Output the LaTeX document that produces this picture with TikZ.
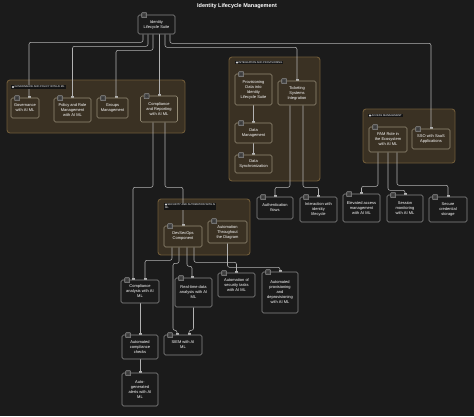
\documentclass[tikz,border=0pt]{standalone}
\usepackage{fontspec}
\setmainfont{Liberation Sans}
\usetikzlibrary{arrows.meta}
\definecolor{bgc}{HTML}{1B1B1B}
\definecolor{grpfill}{HTML}{3A3123}
\definecolor{grpline}{HTML}{6E5A38}
\definecolor{nodeline}{HTML}{8C8C8C}
\definecolor{gnodeline}{HTML}{958C76}
\definecolor{edgecol}{HTML}{B2B2B2}
\definecolor{labelbg}{HTML}{151515}
\definecolor{icofill}{HTML}{4A4A4A}
\pgfdeclarelayer{bg}
\pgfdeclarelayer{fg}
\pgfsetlayers{bg,main,fg}
\tikzset{
  sz/.style 2 args={minimum width=#1pt, minimum height=#2pt},
  box/.style={draw=nodeline, fill=bgc, rounded corners=1.5pt, line width=0.6pt, text=white,
    align=center, font=\fontsize{4}{5}\selectfont, inner sep=0pt},
  gbox/.style={box, draw=gnodeline, fill=grpfill},
  grp/.style={draw=grpline, fill=grpfill, rounded corners=3pt, line width=0.9pt},
  edge/.style={draw=edgecol, line width=0.55pt, rounded corners=2pt,
    -{Square[open,length=2.2pt,width=2.2pt,line width=0.5pt]}},
  ico/.style={draw=nodeline, fill=icofill, rounded corners=0.6pt, line width=0.5pt,
    minimum size=5pt, inner sep=0pt},
  glabel/.style={fill=labelbg, text=white, font=\fontsize{2.6}{3.1}\selectfont,
    inner xsep=1pt, inner ysep=0.8pt, anchor=west, align=left},
  gdot/.style={circle, draw=white, line width=0.3pt, minimum size=1.8pt, inner sep=0pt}
}
\newcommand\nicon[1]{\node[ico] (ic#1) at ([xshift=6.5pt,yshift=-0.5pt]#1.north west) {};
  \draw[black!80, line width=0.35pt] (ic#1.center) circle[radius=1pt];}
\begin{document}
\begin{tikzpicture}[x=1pt,y=-1pt]
\begin{pgfonlayer}{bg}
  \fill[bgc] (0,0) rectangle (474,416);
  \useasboundingbox (0,0) rectangle (474,416);
  \draw[grp] (7,80) rectangle (185,133);
  \draw[grp] (229,57) rectangle (320,181);
  \draw[grp] (363,109) rectangle (455,163);
  \draw[grp] (158,199) rectangle (250,255);
\end{pgfonlayer}
\begin{pgfonlayer}{fg}
  \node[text=white, font=\bfseries\fontsize{5.5}{6}\selectfont] (title) at (237,6) {Identity Lifecycle Management};
  % group labels
  \node[glabel] (lgov) at (11,87) {\hspace{2.5pt}GOVERNANCE AND POLICY WITH AI ML};
  \node[gdot] at (13,87) {};
  \node[glabel] (lint) at (235,62.5) {\hspace{2.5pt}INTEGRATION AND PROVISIONING};
  \node[gdot] at (237,62.5) {};
  \node[glabel] (lacc) at (368,115.5) {\hspace{2.5pt}ACCESS MANAGEMENT};
  \node[gdot] at (370,115.5) {};
  \node[glabel] (lsec) at (164,206.5) {\hspace{2.5pt}SECURITY AND AUTOMATION WITH AI\\ML};
  \node[gdot] at (166,204.5) {};
  % nodes
  \node[box,sz={37}{19}] (root) at (156.5,24.5) {Identity\\Lifecycle Suite};
  \node[gbox,sz={28}{20}] (gov) at (25,108) {Governance\\with AI ML};
  \node[gbox,sz={37}{24}] (policy) at (72.5,110) {Policy and Role\\Management\\with AI ML};
  \node[gbox,sz={31}{20}] (groups) at (112.5,108) {Groups\\Management};
  \node[gbox,sz={37}{26}] (compl) at (159,109) {Compliance\\and Reporting\\with AI ML};
  \node[gbox,sz={37}{31}] (prov) at (253.5,89.5) {Provisioning\\Data into\\Identity\\Lifecycle Suite};
  \node[gbox,sz={38}{24}] (ticket) at (297,93) {Ticketing\\Systems\\Integration};
  \node[gbox,sz={37}{20}] (datam) at (253.5,133) {Data\\Management};
  \node[gbox,sz={37}{18}] (datas) at (253.5,164) {Data\\Synchronization};
  \node[gbox,sz={38}{25}] (pam) at (388,139.5) {PAM Role in\\the Ecosystem\\with AI ML};
  \node[gbox,sz={38}{20}] (sso) at (431,139) {SSO with SaaS\\Applications};
  \node[box,sz={36}{22}] (auth) at (275,208) {Authentication\\flows};
  \node[box,sz={37}{25}] (inter) at (318.5,209.5) {Interaction with\\identity\\lifecycle};
  \node[box,sz={37}{28}] (elev) at (361.5,208) {Elevated access\\management\\with AI ML};
  \node[box,sz={36}{27}] (sess) at (405,208.5) {Session\\monitoring\\with AI ML};
  \node[box,sz={38}{25}] (secure) at (448,209.5) {Secure\\credential\\storage};
  \node[gbox,sz={38}{21}] (devsec) at (183,236.5) {DevSecOps\\Component};
  \node[gbox,sz={39}{22}] (autothr) at (227.5,232) {Automation\\Throughout\\the Diagram};
  \node[box,sz={38}{23}] (compan) at (140,291.5) {Compliance\\analysis with AI\\ML};
  \node[box,sz={37}{29}] (realtime) at (193.5,292.5) {Real-time data\\analysis with AI\\ML};
  \node[box,sz={37}{24}] (autosec) at (236.5,285) {Automation of\\security tasks\\with AI ML};
  \node[box,sz={36}{41}] (autoprov) at (280,292.5) {Automated\\provisioning\\and\\deprovisioning\\with AI ML};
  \node[box,sz={38}{20}] (siem) at (183,345) {SIEM with AI\\ML};
  \node[box,sz={36}{24}] (autocc) at (140,347) {Automated\\compliance\\checks};
  \node[box,sz={36}{33}] (alerts) at (140,389.5) {Auto-\\generated\\alerts with AI\\ML};
  \foreach \n in {root,gov,policy,groups,compl,prov,ticket,datam,datas,pam,sso,auth,inter,elev,sess,secure,devsec,autothr,compan,realtime,autosec,autoprov,siem,autocc,alerts}{\nicon{\n}}
\end{pgfonlayer}
% edges
\draw[edge] ([xshift=-13.5pt]root.south) -- ++(0,8) -| ([xshift=4pt]gov.north);
\draw[edge] ([xshift=-8.5pt]root.south) -- ++(0,12) -| (policy.north);
\draw[edge] ([xshift=-3.5pt]root.south) -- ++(0,16) -| ([xshift=3.5pt]groups.north);
\draw[edge] ([xshift=2.5pt]root.south) -- (compl.north);
\draw[edge] ([xshift=8.5pt]root.south) -- ++(0,13) -| (ticket.north);
\draw[edge] ([xshift=13.5pt]root.south) -- ++(0,9) -| (sso.north);
\draw[edge] ([xshift=-6pt]compl.south) -- ++(0,65) -| ([xshift=-7pt]compan.north);
\draw[edge] ([xshift=6pt]compl.south) -- ++(0,65) -| (devsec.north);
\draw[edge] (prov.south) -- (datam.north);
\draw[edge] (datam.south) -- (datas.north);
\draw[edge] ([xshift=-7pt]ticket.south) -- ++(0,82) -| (auth.north);
\draw[edge] ([xshift=6pt]ticket.south) -- ++(0,82) -| (inter.north);
\draw[edge] ([xshift=-10pt]pam.south) -- ++(0,34) -| (elev.north);
\draw[edge] (pam.south) -- ++(0,38) -| (sess.north);
\draw[edge] ([xshift=9pt]pam.south) -- ++(0,33) -| (secure.north);
\draw[edge] ([xshift=-11pt]devsec.south) -- ++(0,13) -| ([xshift=5pt]compan.north);
\draw[edge] ([xshift=-4pt]devsec.south) -- ++(0,16) -| ++(-6,67) -| ([xshift=-6pt]siem.north);
\draw[edge] ([xshift=4pt]devsec.south) -- ++(0,19) -| ([xshift=-1.5pt]realtime.north);
\draw[edge] ([xshift=11pt]devsec.south) -- ++(0,15) -| (autosec.north);
\draw[edge] (autothr.south) -- ++(0,24) -| (autoprov.north);
\draw[edge] (realtime.south) -- ++(0,23) -| ([xshift=6pt]siem.north);
\draw[edge] (compan.south) -- (autocc.north);
\draw[edge] (autocc.south) -- (alerts.north);
\end{tikzpicture}
\end{document}
